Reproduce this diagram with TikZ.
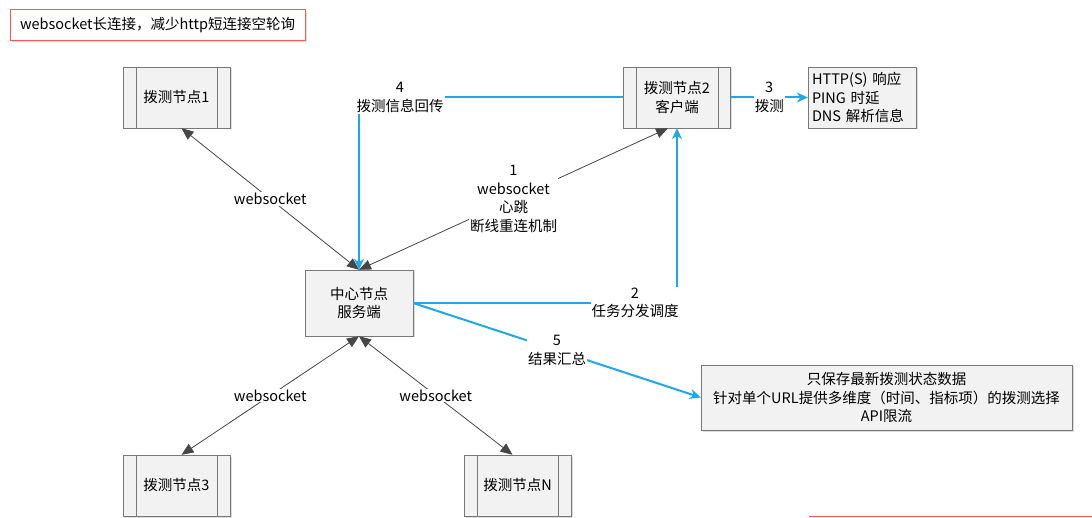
\documentclass[tikz,border=0pt]{standalone}
\usepackage{fontspec}
\setmainfont{Noto Sans CJK SC}
\usetikzlibrary{arrows.meta,shadows}
\definecolor{cblue}{RGB}{30,168,236}
\definecolor{cgray}{RGB}{70,70,70}
\definecolor{cbox}{RGB}{120,120,120}
\definecolor{cred}{RGB}{240,90,90}
\begin{document}
\begin{tikzpicture}[x=1pt,y=-1pt,
  font=\fontsize{14.5}{18.5}\selectfont,
  boxbase/.style={draw=cbox, fill=black!5, inner sep=0pt, align=center,
    drop shadow={shadow xshift=1.5pt,shadow yshift=-1.5pt,fill=black!22,opacity=0.6}},
  dbox/.style={boxbase, minimum width=107pt, minimum height=61pt},
  lbl/.style={fill=white, inner sep=1pt, align=center},
  gw/.style={draw=cgray, line width=0.8pt,
    {Triangle[length=12pt,width=10pt]}-{Triangle[length=12pt,width=10pt]}},
  bw/.style={draw=cblue, line width=2pt, -{Stealth[length=11pt,width=10pt,inset=3.5pt]}}]
\useasboundingbox (0,0) rectangle (1092,518);

% title
\node[boxbase, draw=cred, line width=1pt, fill=white, minimum width=295pt, minimum height=31pt] (title) at (157.5,25.5) {websocket长连接，减少http短连接空轮询};

% nodes
\node[dbox] (n1) at (176.5,97.5) {拨测节点1};
\node[dbox] (n2) at (677,97.5) {拨测节点2\\客户端};
\node[boxbase, minimum width=108pt, minimum height=61pt, align=left, text width=100pt] (r1) at (862,97.5) {HTTP(S) 响应\\PING 时延\\DNS 解析信息};
\node[boxbase, minimum width=108pt, minimum height=66pt] (c) at (359,303) {中心节点\\服务端};
\node[dbox] (n3) at (176.5,485.5) {拨测节点3};
\node[dbox] (nN) at (517.5,485.5) {拨测节点N};
\node[boxbase, minimum width=371pt, minimum height=65pt] (r2) at (886.5,397.5) {只保存最新拨测状态数据\\针对单个URL提供多维度（时间、指标项）的拨测选择\\API限流};

\foreach \n in {n1,n2,n3,nN}{
  \draw[cbox] ([xshift=13pt]\n.north west) -- ([xshift=13pt]\n.south west);
  \draw[cbox] ([xshift=-13pt]\n.north east) -- ([xshift=-13pt]\n.south east);
}

% gray websocket links
\draw[gw] ([xshift=5pt]n1.south) -- node[lbl]{websocket} (c.north);
\draw[gw] (c.north) -- node[lbl]{1\\websocket\\心跳\\断线重连机制} ([xshift=-9pt]n2.south);
\draw[gw] (c.south) -- node[lbl]{websocket} ([xshift=5pt]n3.north);
\draw[gw] (c.south) -- node[lbl]{websocket} ([xshift=-5pt]nN.north);

% blue flows
\draw[bw] (n2.west) -| node[lbl, pos=0.5, xshift=41pt]{4\\拨测信息回传} (c.north);
\draw[bw] (c.east) -| node[lbl, pos=0.5, xshift=-42pt]{2\\任务分发调度} (n2.south);
\draw[bw] (n2.east) -- node[lbl]{3\\拨测} (r1.west);
\draw[bw] (c.east) -- node[lbl]{5\\结果汇总} (r2.west);

% cut-off red box at bottom
\draw[cred, line width=1.2pt] (809,516.5) -- (1092,516.5);
\end{tikzpicture}
\end{document}
